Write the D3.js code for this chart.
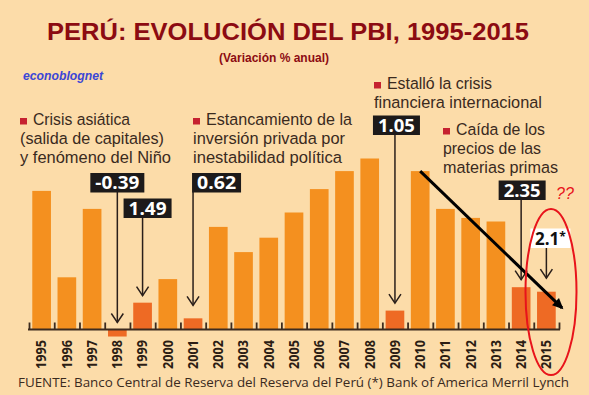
<!DOCTYPE html>
<html lang="es">
<head>
    <meta charset="UTF-8">
    <title>Perú: evolución del PBI 1995-2015</title>
    <script src="https://d3js.org/d3.v7.min.js"></script>
    <style>
        html, body { margin: 0; padding: 0; background: #fcdca9; }
        svg { display: block; }
        text { font-family: "Open Sans", sans-serif; }
    </style>
</head>
<body>
<svg id="chart"></svg>
<script>
    const years = ["1995","1996","1997","1998","1999","2000","2001","2002","2003","2004",
                   "2005","2006","2007","2008","2009","2010","2011","2012","2013","2014","2015"];
    const pbi = [7.7, 2.9, 6.7, -0.39, 1.49, 2.8, 0.62, 5.7, 4.3, 5.1,
                 6.5, 7.8, 8.8, 9.5, 1.05, 8.8, 6.7, 6.2, 6.0, 2.35, 2.1];
    // years that get a callout box
    const calloutYears = ["1998", "1999", "2001", "2009", "2014", "2015"];
    const calloutLabels = ["-0.39", "1.49", "0.62", "1.05", "2.35", "2.1*"];
    const notes = [
        ["Crisis asiática", "(salida de capitales)", "y fenómeno del Niño"],
        ["Estancamiento de la", "inversión privada por", "inestabilidad política"],
        ["Estalló la crisis", "financiera internacional"],
        ["Caída de los", "precios de las", "materias primas"]
    ];
    const trendFrom = "2010";
    const trendTo = 1.2;   // valor hacia donde apunta la flecha

    const width = 589, height = 395;
    const svg = d3.select("#chart").attr("width", width).attr("height", height);

    svg.append("rect").attr("width", width).attr("height", height).attr("fill", "#fcdca9");

    const x = d3.scaleBand().domain(years).range([29, 559]).paddingInner(0.26).paddingOuter(0.13);
    const y = d3.scaleLinear().domain([0, 10]).range([329.5, 149.5]);
    const data = years.map((yr, i) => ({ year: yr, value: pbi[i], hot: calloutYears.includes(yr) }));

    // titles
    svg.append("text").attr("x", 47).attr("y", 39.5)
        .attr("textLength", 482).attr("lengthAdjust", "spacingAndGlyphs")
        .style("font-family", "'Liberation Sans', Arial, sans-serif")
        .style("font-weight", "bold").style("font-size", "24.5px").attr("fill", "#8c0b12")
        .text("PERÚ: EVOLUCIÓN DEL PBI, 1995-2015");
    svg.append("text").attr("x", 274).attr("y", 62).attr("text-anchor", "middle")
        .style("font-family", "'Liberation Sans', Arial, sans-serif")
        .style("font-weight", "bold").style("font-size", "12px").attr("fill", "#8c0b12")
        .text("(Variación % anual)");
    svg.append("text").attr("x", 23).attr("y", 80)
        .attr("textLength", 80).attr("lengthAdjust", "spacingAndGlyphs")
        .style("font-family", "'Liberation Sans', Arial, sans-serif")
        .style("font-weight", "bold").style("font-style", "italic").style("font-size", "12px")
        .attr("fill", "#3b46d6")
        .text("econoblognet");

    // bars
    svg.selectAll("rect.bar").data(data).enter().append("rect")
        .attr("class", "bar")
        .attr("x", d => x(d.year))
        .attr("width", x.bandwidth())
        .attr("y", d => y(Math.max(0, d.value)))
        .attr("height", d => Math.abs(y(d.value) - y(0)))
        .attr("fill", d => d.hot ? "#ee6a24" : "#f4901f");

    // axis line + ticks at the band edges
    const step = x.step();
    const axisY = y(0);
    svg.append("line").attr("x1", 28).attr("x2", 560).attr("y1", axisY).attr("y2", axisY)
        .attr("stroke", "#3d2b1f").attr("stroke-width", 2);
    svg.selectAll("line.tick").data(d3.range(years.length + 1)).enter().append("line")
        .attr("x1", i => x.range()[0] + i * step + 0.5)
        .attr("x2", i => x.range()[0] + i * step + 0.5)
        .attr("y1", axisY - 7).attr("y2", axisY)
        .attr("stroke", "#3d2b1f").attr("stroke-width", 1.8);

    // year labels
    svg.selectAll("text.year").data(years).enter().append("text")
        .attr("transform", d => `translate(${x(d) + x.bandwidth() / 2},340) rotate(-90)`)
        .attr("text-anchor", "end").attr("dy", "0.36em")
        .attr("textLength", 29).attr("lengthAdjust", "spacingAndGlyphs")
        .style("font-weight", "bold").style("font-size", "13.5px").attr("fill", "#2b1d14")
        .text(d => d);

    // notes
    const notePos = [
        { x: 20, y: 125, len: [97, 144, 151] },
        { x: 193, y: 125, len: [146, 152, 149] },
        { x: 374, y: 89, len: [105, 168] },
        { x: 443, y: 135, len: [89, 98, 115] }
    ];
    notes.forEach((lines, k) => {
        const p = notePos[k];
        svg.append("rect").attr("x", p.x).attr("y", p.y - 7).attr("width", 7).attr("height", 6.5)
            .attr("fill", "#c62230");
        lines.forEach((t, j) => {
            svg.append("text")
                .attr("x", j === 0 ? p.x + 13 : p.x)
                .attr("y", p.y + j * 19)
                .attr("textLength", p.len[j]).attr("lengthAdjust", "spacingAndGlyphs")
                .style("font-family", "'Liberation Sans', Arial, sans-serif")
                .style("font-size", "16.3px").attr("fill", "#3a2a1e")
                .text(t);
        });
    });

    // callouts
    const boxTop = { "1998": 173, "1999": 198.5, "2001": 173, "2009": 115.5, "2014": 180.5, "2015": 228.5 };
    const boxShift = { "1998": 0, "1999": 5, "2001": 23.5, "2009": 1.5, "2014": 1, "2015": 4 };
    const boxW = { "1998": 54, "1999": 48, "2001": 49, "2009": 47, "2014": 47, "2015": 40 };
    const tipGap = { "1998": 7, "1999": 7, "2001": 13, "2009": 7.5, "2014": 7.5, "2015": 13.5 };

    calloutYears.forEach((yr, k) => {
        const d = data.find(e => e.year === yr);
        const cx = x(yr) + x.bandwidth() / 2;
        const top = boxTop[yr];
        const bx = cx + boxShift[yr] - boxW[yr] / 2;
        const tip = y(Math.max(0, d.value)) - tipGap[yr];
        const white = calloutLabels[k].endsWith("*");
        const ink = "#2a1f1a";

        svg.append("line").attr("x1", cx).attr("x2", cx).attr("y1", top + 19).attr("y2", tip)
            .attr("stroke", ink).attr("stroke-width", 1.5);
        svg.append("path")
            .attr("d", `M${cx - 6},${tip - 9} L${cx},${tip} L${cx + 6},${tip - 9}`)
            .attr("fill", "none").attr("stroke", ink).attr("stroke-width", 1.5);

        svg.append("rect").attr("x", bx).attr("y", top).attr("width", boxW[yr]).attr("height", 19.5)
            .attr("fill", white ? "#ffffff" : "#1d1a1a");
        const label = svg.append("text")
            .attr("x", bx + boxW[yr] / 2).attr("y", top + 16).attr("text-anchor", "middle")
            .style("font-weight", "bold").style("font-size", "17px")
            .attr("fill", white ? "#111" : "#ffffff");
        if (white) {
            label.append("tspan").text(calloutLabels[k].replace("*", ""));
            label.append("tspan").attr("dy", -4).style("font-size", "12px").text("*");
        } else {
            label.attr("textLength", boxW[yr] - 10).attr("lengthAdjust", "spacingAndGlyphs")
                .text(calloutLabels[k]);
        }
    });

    // trend arrow from 2010 down past 2015
    const fx = x(trendFrom) + x.bandwidth() / 2, fy = y(pbi[years.indexOf(trendFrom)]);
    const tx = x.range()[1] + 3, ty = y(trendTo);
    const ang = Math.atan2(ty - fy, tx - fx);
    svg.append("line").attr("x1", fx).attr("y1", fy).attr("x2", tx).attr("y2", ty)
        .attr("stroke", "#000").attr("stroke-width", 3);
    const ah = 9, aw = 5;
    const p1 = [tx - ah * Math.cos(ang) + aw * Math.sin(ang), ty - ah * Math.sin(ang) - aw * Math.cos(ang)];
    const p2 = [tx - ah * Math.cos(ang) - aw * Math.sin(ang), ty - ah * Math.sin(ang) + aw * Math.cos(ang)];
    svg.append("path").attr("d", `M${tx + 2 * Math.cos(ang)},${ty + 2 * Math.sin(ang)} L${p1} L${p2} Z`)
        .attr("fill", "#000");

    // red ellipse around 2015 + question marks
    svg.append("ellipse").attr("cx", 551).attr("cy", 292).attr("rx", 25.5).attr("ry", 83)
        .attr("fill", "none").attr("stroke", "#e8131b").attr("stroke-width", 2);
    svg.append("text").attr("x", 556).attr("y", 199)
        .style("font-family", "'Liberation Sans', Arial, sans-serif")
        .style("font-style", "italic").style("font-size", "16px").attr("fill", "#e8131b")
        .text("??");

    // source
    svg.append("text").attr("x", 18).attr("y", 387)
        .attr("textLength", 551).attr("lengthAdjust", "spacingAndGlyphs")
        .style("font-size", "13px").attr("fill", "#3a2a1e")
        .text("FUENTE: Banco Central de Reserva del Reserva del Perú (*) Bank of America Merril Lynch");
</script>
</body>
</html>
